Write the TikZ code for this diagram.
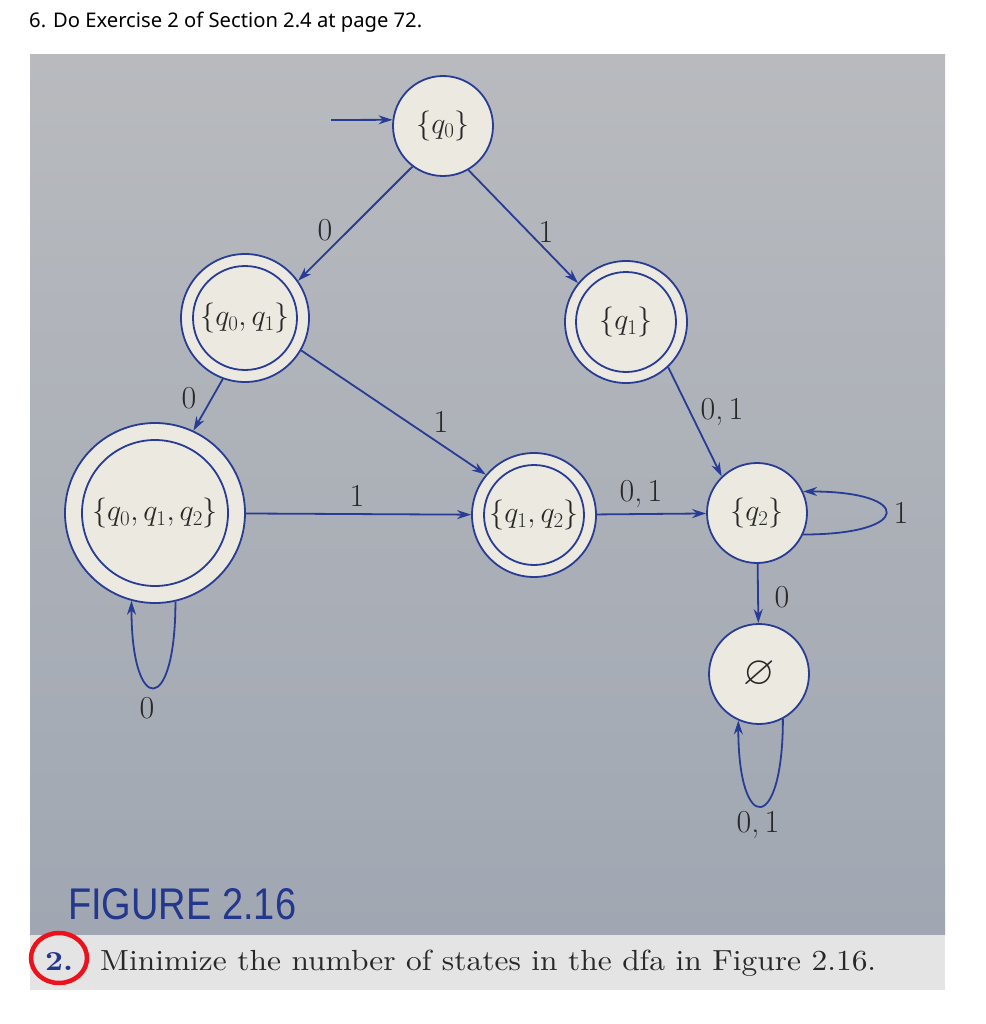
\RequirePackage{fix-cm}
\documentclass[tikz,border=0pt]{standalone}
\usepackage{amssymb}
\usepackage{fontspec}
\newfontfamily\hdrfont{Noto Sans}
\newfontfamily\figfont{Liberation Sans}
\usetikzlibrary{arrows.meta}
\definecolor{bgtop}{RGB}{184,186,190}
\definecolor{bgbot}{RGB}{160,167,178}
\definecolor{lineblue}{RGB}{40,60,150}
\definecolor{cream}{RGB}{236,233,224}
\definecolor{stripgray}{RGB}{228,228,228}
\definecolor{figblue}{RGB}{35,55,140}
\definecolor{ringred}{RGB}{236,18,28}
\definecolor{inkgray}{RGB}{40,40,40}
\begin{document}
\begin{tikzpicture}[x=1pt,y=-1pt,
  state/.style={circle,draw=lineblue,fill=cream,line width=1.8pt,inner sep=0pt,
    font=\fontsize{30}{30}\selectfont,text=inkgray},
  lbl/.style={font=\fontsize{32}{32}\selectfont,text=inkgray,inner sep=0pt},
  edge/.style={draw=lineblue,line width=1.8pt,-{Stealth[length=14pt,width=9pt]}},
  ring/.style={draw=lineblue,line width=1.8pt}]
\useasboundingbox (0,0) rectangle (985,1024);
\fill[white] (0,0) rectangle (985,1024);
\shade[top color=bgtop,bottom color=bgbot] (30,55) rectangle (945,935);
\fill[stripgray] (30,935) rectangle (945,990);

% header
\node[anchor=base west,inner sep=0pt] (hdr) at (29,28)
  {\resizebox{393pt}{!}{\hdrfont\fontsize{20}{20}\selectfont 6. Do Exercise 2 of Section 2.4 at page 72.}};

% states
\node[state,minimum size=100pt] (q0) at (443,126) {$\{q_0\}$};
\node[state,minimum size=128pt] (q01) at (245,318) {$\{q_0,q_1\}$};
\draw[ring] (q01.center) circle[radius=52pt];
\node[state,minimum size=122pt] (q1) at (626,322) {$\{q_1\}$};
\draw[ring] (q1.center) circle[radius=50pt];
\node[state,minimum size=180pt] (q012) at (155,513) {$\{q_0,q_1,q_2\}$};
\draw[ring] (q012.center) circle[radius=73pt];
\node[state,minimum size=124pt] (q12) at (534,515) {$\{q_1,q_2\}$};
\draw[ring] (q12.center) circle[radius=50pt];
\node[state,minimum size=100pt] (q2) at (757,513) {$\{q_2\}$};
\node[state,minimum size=100pt] (e) at (759,674) {\scalebox{1.35}{$\varnothing$}};

% edges
\coordinate (s) at (331,120);
\draw[edge] (s) -- (q0.173);
\draw[edge] (q0.-127) -- (q01.35);
\draw[edge] (q0.-60) -- (q1.141);
\draw[edge] (q01.-110) -- (q012.65);
\draw[edge] (q01.-30) -- (q12.140);
\draw[edge] (q1.-47) -- (q2.134);
\draw[edge] (q012) -- (q12);
\draw[edge] (q12) -- (q2);
\draw[edge] (q2.-25) .. controls +(110,0) and +(110,0) .. (q2.25);
\draw[edge] (q2) -- (e);
\draw[edge] (q012.-77) .. controls +(0,115) and +(0,115) .. (q012.-105);
\draw[edge] (e.-62) .. controls +(0,115) and +(0,115) .. (e.-114);

% labels
\node[lbl] (l1) at (325,230) {0};
\node[lbl] (l2) at (546,232) {1};
\node[lbl] (l3) at (189,398) {0};
\node[lbl] (l4) at (441,422) {1};
\node[lbl] (l5) at (722,412) {0,\,1};
\node[lbl] (l6) at (357,496) {1};
\node[lbl] (l7) at (641,494) {0,\,1};
\node[lbl] (l8) at (901,513) {1};
\node[lbl] (l9) at (782,597) {0};
\node[lbl] (l10) at (147,708) {0};
\node[lbl] (l11) at (758,825) {0,\,1};

% figure caption
\node[anchor=base west,inner sep=0pt,text=figblue] (fig) at (68,919)
  {\resizebox{228pt}{31pt}{\figfont FIGURE 2.16}};
\node[anchor=base west,inner sep=0pt,text=figblue] (num) at (45,970)
  {\resizebox{28pt}{18pt}{\bfseries 2.}};
\node[anchor=base west,inner sep=0pt,text=inkgray] (cap) at (100,970)
  {\resizebox{776pt}{20.5pt}{Minimize the number of states in the dfa in Figure 2.16.}};
\coordinate (rc) at (59,958);
\draw[ringred,line width=4.5pt] (rc) ellipse[x radius=28pt,y radius=25pt];
\end{tikzpicture}
\end{document}
